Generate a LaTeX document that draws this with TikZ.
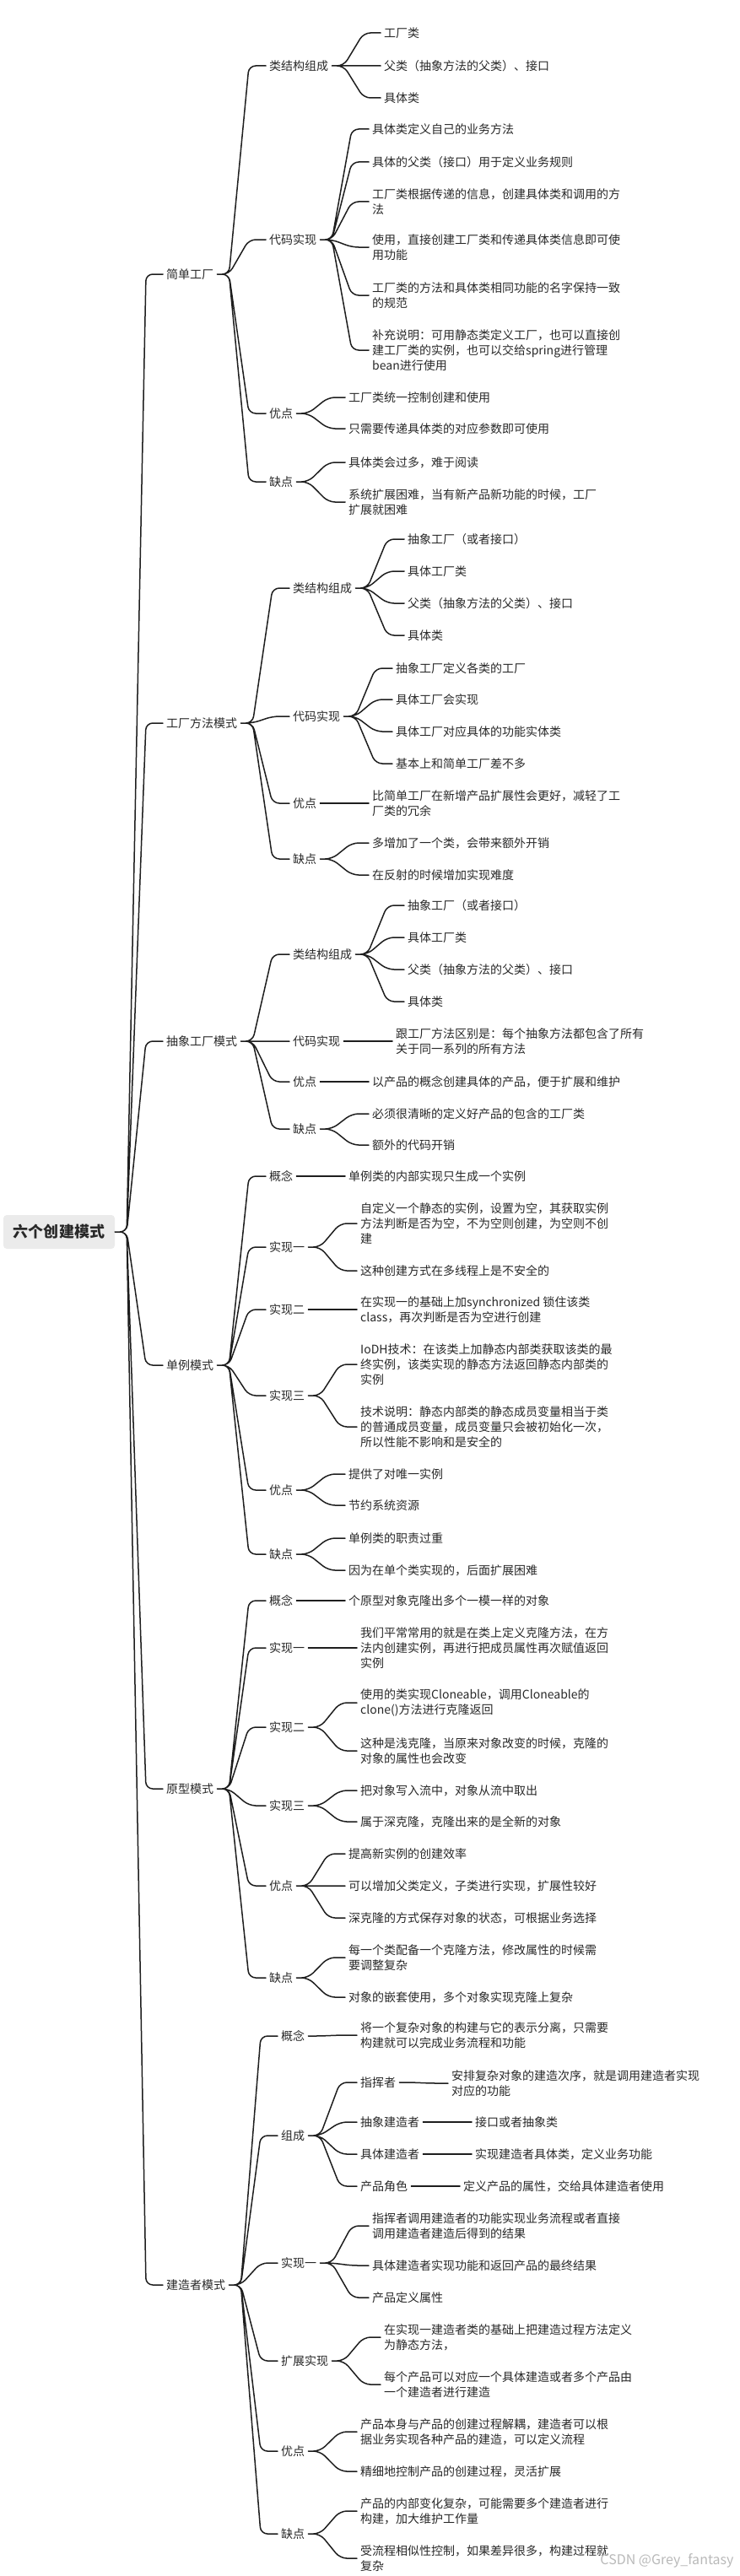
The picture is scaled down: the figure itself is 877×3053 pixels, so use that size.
\documentclass[tikz,border=0pt]{standalone}
\usepackage{fontspec}
\setmainfont{Noto Sans CJK SC}
\begin{document}
\begin{tikzpicture}[x=1pt,y=-1pt,
  leaf/.style={anchor=west,inner xsep=4pt,inner ysep=1pt,align=left,text=textcol,font=\fontsize{14pt}{18pt}\selectfont},
  rootbox/.style={fill=gray!16,rounded corners=4pt,inner xsep=12pt,minimum height=40pt,text=textcol,font=\bfseries\fontsize{18pt}{22pt}\selectfont},
  link/.style={draw=linecol,line width=1.5pt,line cap=round,rounded corners=8pt,
    to path={-- ++(14pt,0) -- ([xshift=-20pt]\tikztotarget.west) -- (\tikztotarget.west)}},
  wmtext/.style={anchor=east,text=gray!55,font=\fontsize{16pt}{18pt}\selectfont}]
\definecolor{textcol}{RGB}{40,40,40}
\definecolor{linecol}{RGB}{30,30,30}
\useasboundingbox (0,0) rectangle (877,3053);
\node[rootbox] (root) at (70,1460) {六个创建模式};
\node[leaf] (simple) at (193,325) {简单工厂};
\node[leaf] (method) at (193,857) {工厂方法模式};
\node[leaf] (abstract) at (193,1234) {抽象工厂模式};
\node[leaf] (single) at (193,1618) {单例模式};
\node[leaf] (proto) at (193,2120) {原型模式};
\node[leaf] (builder) at (193,2708) {建造者模式};
\node[leaf] (s1) at (315,78) {类结构组成};
\node[leaf] (s2) at (315,284) {代码实现};
\node[leaf] (s3) at (315,490) {优点};
\node[leaf] (s4) at (315,571) {缺点};
\node[leaf] (s1a) at (451,39) {工厂类};
\node[leaf] (s1b) at (451,78) {父类（抽象方法的父类）、接口};
\node[leaf] (s1c) at (451,116) {具体类};
\node[leaf] (s2a) at (437,153) {具体类定义自己的业务方法};
\node[leaf] (s2b) at (437,192) {具体的父类（接口）用于定义业务规则};
\node[leaf] (s2c) at (437,239) {工厂类根据传递的信息，创建具体类和调用的方\\法};
\node[leaf] (s2d) at (437,293) {使用，直接创建工厂类和传递具体类信息即可使\\用功能};
\node[leaf] (s2e) at (437,350) {工厂类的方法和具体类相同功能的名字保持一致\\的规范};
\node[leaf] (s2f) at (437,415) {补充说明：可用静态类定义工厂，也可以直接创\\建工厂类的实例，也可以交给spring进行管理\\bean进行使用};
\node[leaf] (s3a) at (409,471) {工厂类统一控制创建和使用};
\node[leaf] (s3b) at (409,508) {只需要传递具体类的对应参数即可使用};
\node[leaf] (s4a) at (409,548) {具体类会过多，难于阅读};
\node[leaf] (s4b) at (409,595) {系统扩展困难，当有新产品新功能的时候，工厂\\扩展就困难};
\node[leaf] (m1) at (343,697) {类结构组成};
\node[leaf] (m2) at (343,849) {代码实现};
\node[leaf] (m3) at (343,952) {优点};
\node[leaf] (m4) at (343,1018) {缺点};
\node[leaf] (m1a) at (479,639) {抽象工厂（或者接口）};
\node[leaf] (m1b) at (479,677) {具体工厂类};
\node[leaf] (m1c) at (479,715) {父类（抽象方法的父类）、接口};
\node[leaf] (m1d) at (479,753) {具体类};
\node[leaf] (m2a) at (465,792) {抽象工厂定义各类的工厂};
\node[leaf] (m2b) at (465,829) {具体工厂会实现};
\node[leaf] (m2c) at (465,867) {具体工厂对应具体的功能实体类};
\node[leaf] (m2d) at (465,905) {基本上和简单工厂差不多};
\node[leaf] (m3a) at (437,952) {比简单工厂在新增产品扩展性会更好，减轻了工\\厂类的冗余};
\node[leaf] (m4a) at (437,999) {多增加了一个类，会带来额外开销};
\node[leaf] (m4b) at (437,1037) {在反射的时候增加实现难度};
\node[leaf] (a1) at (343,1131) {类结构组成};
\node[leaf] (a2) at (343,1234) {代码实现};
\node[leaf] (a3) at (343,1282) {优点};
\node[leaf] (a4) at (343,1338) {缺点};
\node[leaf] (a1a) at (479,1073) {抽象工厂（或者接口）};
\node[leaf] (a1b) at (479,1111) {具体工厂类};
\node[leaf] (a1c) at (479,1149) {父类（抽象方法的父类）、接口};
\node[leaf] (a1d) at (479,1187) {具体类};
\node[leaf] (a2a) at (465,1234) {跟工厂方法区别是：每个抽象方法都包含了所有\\关于同一系列的所有方法};
\node[leaf] (a3a) at (437,1282) {以产品的概念创建具体的产品，便于扩展和维护};
\node[leaf] (a4a) at (437,1320) {必须很清晰的定义好产品的包含的工厂类};
\node[leaf] (a4b) at (437,1357) {额外的代码开销};
\node[leaf] (d1) at (315,1394) {概念};
\node[leaf] (d2) at (315,1478) {实现一};
\node[leaf] (d3) at (315,1552) {实现二};
\node[leaf] (d4) at (315,1654) {实现三};
\node[leaf] (d5) at (315,1766) {优点};
\node[leaf] (d6) at (315,1842) {缺点};
\node[leaf] (d1a) at (409,1394) {单例类的内部实现只生成一个实例};
\node[leaf] (d2a) at (423,1450) {自定义一个静态的实例，设置为空，其获取实例\\方法判断是否为空，不为空则创建，为空则不创\\建};
\node[leaf] (d2b) at (423,1506) {这种创建方式在多线程上是不安全的};
\node[leaf] (d3a) at (423,1552) {在实现一的基础上加synchronized 锁住该类\\class，再次判断是否为空进行创建};
\node[leaf] (d4a) at (423,1617) {IoDH技术：在该类上加静态内部类获取该类的最\\终实例，该类实现的静态方法返回静态内部类的\\实例};
\node[leaf] (d4b) at (423,1691) {技术说明：静态内部类的静态成员变量相当于类\\的普通成员变量，成员变量只会被初始化一次，\\所以性能不影响和是安全的};
\node[leaf] (d5a) at (409,1747) {提供了对唯一实例};
\node[leaf] (d5b) at (409,1784) {节约系统资源};
\node[leaf] (d6a) at (409,1823) {单例类的职责过重};
\node[leaf] (d6b) at (409,1861) {因为在单个类实现的，后面扩展困难};
\node[leaf] (p1) at (315,1897) {概念};
\node[leaf] (p2) at (315,1953) {实现一};
\node[leaf] (p3) at (315,2047) {实现二};
\node[leaf] (p4) at (315,2140) {实现三};
\node[leaf] (p5) at (315,2235) {优点};
\node[leaf] (p6) at (315,2344) {缺点};
\node[leaf] (p1a) at (409,1897) {个原型对象克隆出多个一模一样的对象};
\node[leaf] (p2a) at (423,1953) {我们平常常用的就是在类上定义克隆方法，在方\\法内创建实例，再进行把成员属性再次赋值返回\\实例};
\node[leaf] (p3a) at (423,2018) {使用的类实现Cloneable，调用Cloneable的\\clone()方法进行克隆返回};
\node[leaf] (p3b) at (423,2075) {这种是浅克隆，当原来对象改变的时候，克隆的\\对象的属性也会改变};
\node[leaf] (p4a) at (423,2122) {把对象写入流中，对象从流中取出};
\node[leaf] (p4b) at (423,2159) {属于深克隆，克隆出来的是全新的对象};
\node[leaf] (p5a) at (409,2197) {提高新实例的创建效率};
\node[leaf] (p5b) at (409,2235) {可以增加父类定义，子类进行实现，扩展性较好};
\node[leaf] (p5c) at (409,2273) {深克隆的方式保存对象的状态，可根据业务选择};
\node[leaf] (p6a) at (409,2320) {每一个类配备一个克隆方法，修改属性的时候需\\要调整复杂};
\node[leaf] (p6b) at (409,2367) {对象的嵌套使用，多个对象实现克隆上复杂};
\node[leaf] (b1) at (329,2413) {概念};
\node[leaf] (b2) at (329,2531) {组成};
\node[leaf] (b3) at (329,2682) {实现一};
\node[leaf] (b4) at (329,2798) {扩展实现};
\node[leaf] (b5) at (329,2905) {优点};
\node[leaf] (b6) at (329,3003) {缺点};
\node[leaf] (b1a) at (423,2412) {将一个复杂对象的构建与它的表示分离，只需要\\构建就可以完成业务流程和功能};
\node[leaf] (b2a) at (423,2468) {指挥者};
\node[leaf] (b2b) at (423,2515) {抽象建造者};
\node[leaf] (b2c) at (423,2553) {具体建造者};
\node[leaf] (b2d) at (423,2591) {产品角色};
\node[leaf] (b2a1) at (531,2469) {安排复杂对象的建造次序，就是调用建造者实现\\对应的功能};
\node[leaf] (b2b1) at (559,2515) {接口或者抽象类};
\node[leaf] (b2c1) at (559,2553) {实现建造者具体类，定义业务功能};
\node[leaf] (b2d1) at (545,2591) {定义产品的属性，交给具体建造者使用};
\node[leaf] (b3a) at (437,2638) {指挥者调用建造者的功能实现业务流程或者直接\\调用建造者建造后得到的结果};
\node[leaf] (b3b) at (437,2685) {具体建造者实现功能和返回产品的最终结果};
\node[leaf] (b3c) at (437,2723) {产品定义属性};
\node[leaf] (b4a) at (451,2770) {在实现一建造者类的基础上把建造过程方法定义\\为静态方法，};
\node[leaf] (b4b) at (451,2826) {每个产品可以对应一个具体建造或者多个产品由\\一个建造者进行建造};
\node[leaf] (b5a) at (423,2882) {产品本身与产品的创建过程解耦，建造者可以根\\据业务实现各种产品的建造，可以定义流程};
\node[leaf] (b5b) at (423,2929) {精细地控制产品的创建过程，灵活扩展};
\node[leaf] (b6a) at (423,2976) {产品的内部变化复杂，可能需要多个建造者进行\\构建，加大维护工作量};
\node[leaf] (b6b) at (423,3032) {受流程相似性控制，如果差异很多，构建过程就\\复杂};
\node[wmtext] (wm) at (873,3035) {CSDN @Grey\_fantasy};
\draw[link] (root.east) to (simple) (root.east) to (method) (root.east) to (abstract) (root.east) to (single) (root.east) to (proto) (root.east) to (builder);
\draw[link] (simple.east) to (s1) (simple.east) to (s2) (simple.east) to (s3) (simple.east) to (s4);
\draw[link] (s1.east) to (s1a) (s1.east) to (s1b) (s1.east) to (s1c);
\draw[link] (s2.east) to (s2a) (s2.east) to (s2b) (s2.east) to (s2c) (s2.east) to (s2d) (s2.east) to (s2e) (s2.east) to (s2f);
\draw[link] (s3.east) to (s3a) (s3.east) to (s3b);
\draw[link] (s4.east) to (s4a) (s4.east) to (s4b);
\draw[link] (method.east) to (m1) (method.east) to (m2) (method.east) to (m3) (method.east) to (m4);
\draw[link] (m1.east) to (m1a) (m1.east) to (m1b) (m1.east) to (m1c) (m1.east) to (m1d);
\draw[link] (m2.east) to (m2a) (m2.east) to (m2b) (m2.east) to (m2c) (m2.east) to (m2d);
\draw[link] (m3.east) to (m3a);
\draw[link] (m4.east) to (m4a) (m4.east) to (m4b);
\draw[link] (abstract.east) to (a1) (abstract.east) to (a2) (abstract.east) to (a3) (abstract.east) to (a4);
\draw[link] (a1.east) to (a1a) (a1.east) to (a1b) (a1.east) to (a1c) (a1.east) to (a1d);
\draw[link] (a2.east) to (a2a);
\draw[link] (a3.east) to (a3a);
\draw[link] (a4.east) to (a4a) (a4.east) to (a4b);
\draw[link] (single.east) to (d1) (single.east) to (d2) (single.east) to (d3) (single.east) to (d4) (single.east) to (d5) (single.east) to (d6);
\draw[link] (d1.east) to (d1a);
\draw[link] (d2.east) to (d2a) (d2.east) to (d2b);
\draw[link] (d3.east) to (d3a);
\draw[link] (d4.east) to (d4a) (d4.east) to (d4b);
\draw[link] (d5.east) to (d5a) (d5.east) to (d5b);
\draw[link] (d6.east) to (d6a) (d6.east) to (d6b);
\draw[link] (proto.east) to (p1) (proto.east) to (p2) (proto.east) to (p3) (proto.east) to (p4) (proto.east) to (p5) (proto.east) to (p6);
\draw[link] (p1.east) to (p1a);
\draw[link] (p2.east) to (p2a);
\draw[link] (p3.east) to (p3a) (p3.east) to (p3b);
\draw[link] (p4.east) to (p4a) (p4.east) to (p4b);
\draw[link] (p5.east) to (p5a) (p5.east) to (p5b) (p5.east) to (p5c);
\draw[link] (p6.east) to (p6a) (p6.east) to (p6b);
\draw[link] (builder.east) to (b1) (builder.east) to (b2) (builder.east) to (b3) (builder.east) to (b4) (builder.east) to (b5) (builder.east) to (b6);
\draw[link] (b1.east) to (b1a);
\draw[link] (b2.east) to (b2a) (b2.east) to (b2b) (b2.east) to (b2c) (b2.east) to (b2d);
\draw[link] (b2a.east) to (b2a1);
\draw[link] (b2b.east) to (b2b1);
\draw[link] (b2c.east) to (b2c1);
\draw[link] (b2d.east) to (b2d1);
\draw[link] (b3.east) to (b3a) (b3.east) to (b3b) (b3.east) to (b3c);
\draw[link] (b4.east) to (b4a) (b4.east) to (b4b);
\draw[link] (b5.east) to (b5a) (b5.east) to (b5b);
\draw[link] (b6.east) to (b6a) (b6.east) to (b6b);
\end{tikzpicture}
\end{document}
